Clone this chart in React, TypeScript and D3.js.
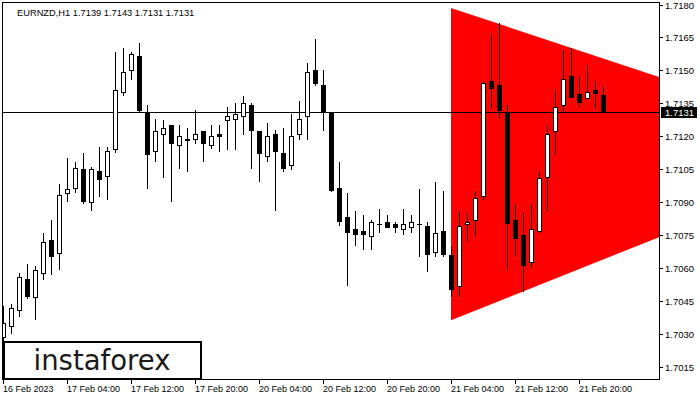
import React from "react";
import * as d3 from "d3";

const title = "EURNZD,H1  1.7139 1.7143 1.7131 1.7131";

const openP = [1.70286,1.70336,1.70409,1.70549,1.70467,1.70576,1.70726,1.70667,1.70940,1.70967,
1.71049,1.70899,1.71040,1.71018,1.71140,1.71400,1.71500,1.71564,1.71309,1.71131,
1.71209,1.71250,1.71159,1.71190,1.71190,1.71222,1.71159,1.71209,1.71272,1.71281,
1.71291,1.71341,1.71222,1.71109,1.71209,1.71122,1.71068,1.71209,1.71291,1.71500,
1.71432,1.71305,1.70967,1.70831,1.70776,1.70769,1.70747,1.70799,1.70808,1.70799,
1.70776,1.70788,1.70799,1.70790,1.70674,1.70769,1.70658,1.70517,1.70799,1.70817,
1.70929,1.71451,1.71432,1.71309,1.70819,1.70749,1.70626,1.70767,1.71016,1.71222,
1.71341,1.71474,1.71392,1.71373,1.71410,1.7139];

const highP = [1.70427,1.70436,1.70576,1.70618,1.70609,1.70761,1.70819,1.70982,1.71101,1.71083,
1.71122,1.71061,1.71151,1.71151,1.71583,1.71602,1.71583,1.71624,1.71341,1.71281,
1.71272,1.71250,1.71250,1.71240,1.71322,1.71222,1.71250,1.71250,1.71332,1.71350,
1.71382,1.71350,1.71222,1.71259,1.71231,1.71240,1.71300,1.71359,1.71532,1.71642,
1.71500,1.71310,1.71081,1.70941,1.70860,1.70840,1.70817,1.70867,1.70840,1.70808,
1.70867,1.70840,1.70958,1.70808,1.70990,1.70949,1.70699,1.70860,1.70849,1.70951,
1.71451,1.71667,1.71715,1.71341,1.70891,1.70849,1.70891,1.71042,1.71251,1.71410,
1.71592,1.71603,1.71474,1.71524,1.71451,1.7143];

const lowP = [1.70250,1.70306,1.70383,1.70465,1.70367,1.70549,1.70574,1.70597,1.70906,1.70947,
1.70897,1.70865,1.70929,1.70916,1.71128,1.71389,1.71459,1.71310,1.70966,1.71088,
1.71016,1.70906,1.71058,1.71040,1.71170,1.71088,1.71149,1.71131,1.71140,1.71140,
1.71209,1.71058,1.70997,1.71088,1.70865,1.71040,1.71049,1.71190,1.71190,1.71432,
1.71231,1.70950,1.70796,1.70523,1.70705,1.70688,1.70688,1.70765,1.70788,1.70765,
1.70756,1.70765,1.70656,1.70588,1.70656,1.70655,1.70473,1.70474,1.70724,1.70747,
1.70916,1.71330,1.71289,1.70597,1.70656,1.70497,1.70606,1.70758,1.70865,1.71120,
1.71310,1.71380,1.71339,1.71373,1.71330,1.7131];

const closeP = [1.70350,1.70417,1.70558,1.70474,1.70591,1.70717,1.70656,1.70931,1.70958,1.71058,
1.70906,1.71049,1.71007,1.71131,1.71409,1.71491,1.71573,1.71318,1.71120,1.71222,
1.71240,1.71170,1.71200,1.71181,1.71209,1.71170,1.71200,1.71200,1.71291,1.71300,
1.71350,1.71231,1.71122,1.71200,1.71131,1.71058,1.71200,1.71281,1.71491,1.71441,
1.71309,1.70955,1.70815,1.70765,1.70756,1.70756,1.70808,1.70799,1.70788,1.70788,
1.70799,1.70808,1.70799,1.70665,1.70758,1.70664,1.70506,1.70790,1.70808,1.70917,
1.71441,1.71421,1.71322,1.70806,1.70738,1.70615,1.70776,1.71008,1.71209,1.71332,
1.71459,1.71380,1.71357,1.71400,1.71398,1.7131];

const xLabels = ["16 Feb 2023","17 Feb 04:00","17 Feb 12:00","17 Feb 20:00","20 Feb 04:00","20 Feb 12:00","20 Feb 20:00","21 Feb 04:00","21 Feb 12:00","21 Feb 20:00"];
const xLabelBars = [0, 8, 16, 24, 32, 40, 48, 56, 64, 72];

const yTicks = [1.7180,1.7165,1.7150,1.7135,1.7120,1.7105,1.7090,1.7075,1.7060,1.7045,1.7030,1.7015];

const currentPrice = 1.7131;

// triangle pattern: [bar index, price]
const triangleBars = [56, 82, 82, 56];
const trianglePrices = [1.71784, 1.71470, 1.70741, 1.70363];

const FONT = "'Liberation Sans', Arial, sans-serif";

export default function App() {
  const W = 700, H = 400;
  const left = 2, right = 659, top = 2, bottom = 379;
  const x = d3.scaleLinear().domain([0, 82]).range([3, 659]);
  const y = d3.scaleLinear().domain([1.7015, 1.7180]).range([367, 4.5]);

  const tri = triangleBars.map((b, i) => [x(b), y(trianglePrices[i])] as [number, number]);
  const triPath = d3.line()(tri) + "Z";

  const candles = openP.map((o, i) => {
    const c = closeP[i];
    const cx = Math.round(x(i));
    const yh = Math.round(y(highP[i]));
    const yl = Math.round(y(lowP[i]));
    const yt = Math.round(y(Math.max(o, c)));
    const yb = Math.round(y(Math.min(o, c)));
    const bull = c > o;
    const doji = yb - yt < 1;
    return (
      <g key={i}>
        <line x1={cx + 0.5} x2={cx + 0.5} y1={yh} y2={yl + 1} stroke="#000" strokeWidth={1} />
        {doji ? (
          <line x1={cx - 2} x2={cx + 3} y1={yt + 0.5} y2={yt + 0.5} stroke="#000" strokeWidth={1} />
        ) : bull ? (
          <rect x={cx - 1.5} y={yt + 0.5} width={4} height={yb - yt} fill="#fff" stroke="#000" strokeWidth={1} />
        ) : (
          <rect x={cx - 2} y={yt} width={5} height={yb - yt + 1} fill="#000" />
        )}
      </g>
    );
  });

  const py = Math.round(y(currentPrice));

  return (
    <svg width={W} height={H} style={{ position: "absolute", left: 0, top: 0, background: "#fff" }} fontFamily={FONT}>
      <defs>
        <clipPath id="plot">
          <rect x={left} y={top} width={right - left} height={bottom - top} />
        </clipPath>
      </defs>
      <rect x={0} y={0} width={W} height={H} fill="#fff" />
      <g clipPath="url(#plot)">
        <path d={triPath} fill="#ff0000" stroke="none" />
        <line x1={left} x2={right} y1={py + 0.5} y2={py + 0.5} stroke="#000" strokeWidth={1} />
        {candles}
      </g>
      {/* frame */}
      <rect x={left + 0.5} y={top + 0.5} width={right - left} height={bottom - top} fill="none" stroke="#000" strokeWidth={1} />
      {/* right axis */}
      {yTicks.map((t, i) => {
        const ty = Math.round(y(t)) + 0.5;
        return (
          <g key={i}>
            <line x1={right} x2={right + 4} y1={ty} y2={ty} stroke="#000" />
            <text x={665} y={ty + 3.5} fontSize={9.5} fill="#000">{t.toFixed(4)}</text>
          </g>
        );
      })}
      <rect x={661} y={py - 5} width={36} height={11} fill="#000" />
      <text x={665} y={py + 4} fontSize={9.5} fill="#fff">{currentPrice.toFixed(4)}</text>
      {/* bottom axis */}
      {xLabels.map((l, i) => {
        const tx = Math.round(x(xLabelBars[i])) + 0.5;
        return (
          <g key={i}>
            <line x1={tx} x2={tx} y1={bottom} y2={bottom + 5} stroke="#000" />
            <text x={tx - 0.5} y={392} fontSize={9} fill="#000">{l}</text>
          </g>
        );
      })}
      {/* title */}
      <text x={17} y={16} fontSize={9.3} fill="#000">{title}</text>
      {/* logo */}
      <rect x={4} y={342} width={197} height={37} fill="#fff" stroke="#000" strokeWidth={2} />
      <text x={102} y={370} fontSize={27.5} textAnchor="middle" fill="#1a1a1a" fontFamily="'DejaVu Sans', sans-serif">instaforex</text>
    </svg>
  );
}
